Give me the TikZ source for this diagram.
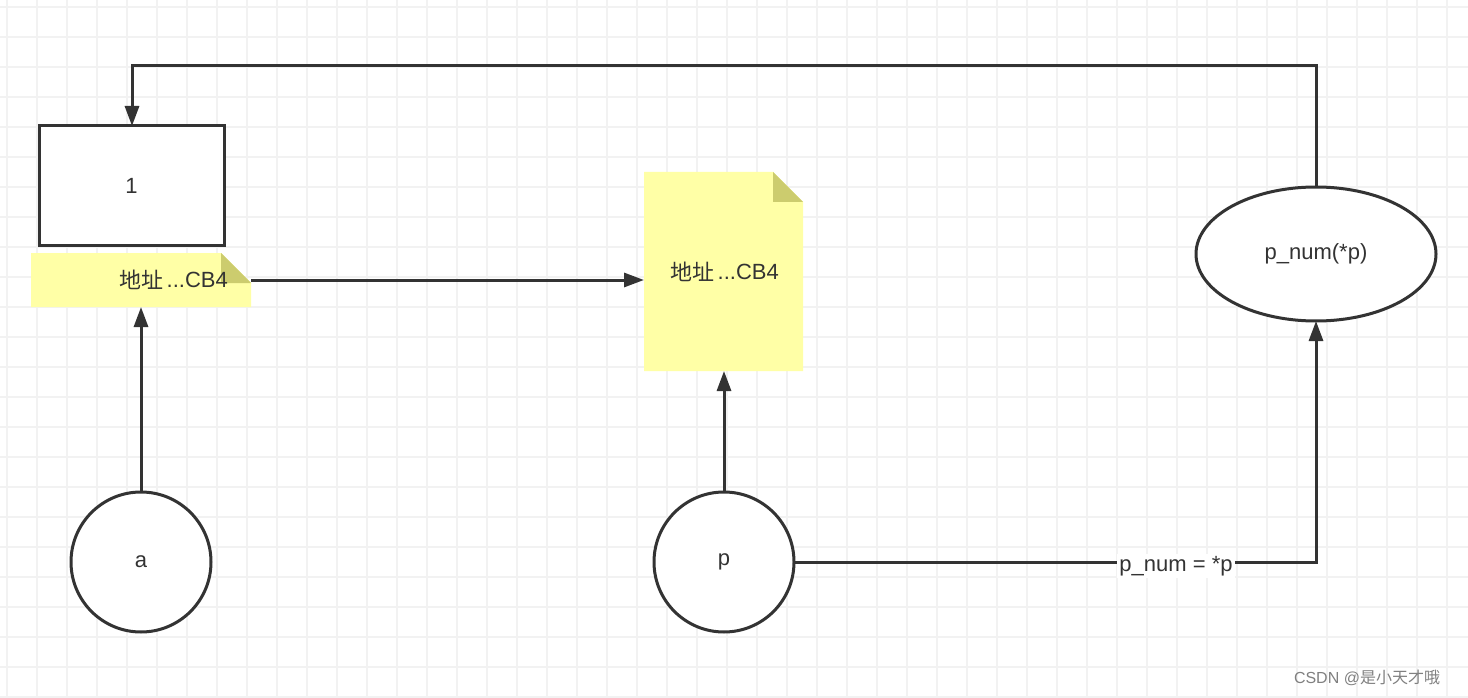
\documentclass[tikz,border=0pt]{standalone}
\usepackage{fontspec}
\setmainfont{Liberation Sans}
\newfontfamily\cjk{Noto Sans CJK SC}
\usetikzlibrary{arrows.meta}
\definecolor{ink}{HTML}{333333}
\definecolor{noteY}{HTML}{FFFFA6}
\definecolor{foldY}{HTML}{CCCC6E}
\begin{document}
\begin{tikzpicture}[x=1pt,y=-1pt,
  line/.style={draw=ink,line width=3pt},
  arr/.style={line,-{Triangle[length=20pt,width=14pt]}},
  txt/.style={text=ink,font=\fontsize{22}{26}\selectfont}]
\useasboundingbox (0,0) rectangle (1468,698);
\fill[white] (0,0) rectangle (1468,698);
\foreach \i in {0,...,48} {\draw[gray!10,line width=1.5pt] (7+30*\i,0) -- (7+30*\i,698);}
\foreach \j in {0,...,23} {\draw[gray!10,line width=1.5pt] (0,7+30*\j) -- (1468,7+30*\j);}
% box 1
\draw[line,fill=white] (39,126) rectangle (224,245);
\node[txt] (one) at (131.5,186) {1};
\coordinate (boxtop) at (132,126);
% note 1
\fill[noteY] (31,253) -- (221,253) -- (251,283) -- (251,307) -- (31,307) -- cycle;
\fill[foldY] (221,253) -- (251,283) -- (221,283) -- cycle;
\node[txt] (n1) at (141,280) {\cjk 地址}; 
\node[txt,anchor=west,inner sep=0pt] at (n1.east) {...CB4};
\node[txt] (note1) at (141,280) {\phantom{\cjk 地址...CB4}};
\coordinate (n1r) at (251,280); \coordinate (n1b) at (141,307);
% note 2
\fill[noteY] (644,172) -- (773,172) -- (803,202) -- (803,371) -- (644,371) -- cycle;
\fill[foldY] (773,172) -- (803,202) -- (773,202) -- cycle;
\node[txt] (n2) at (692,272) {\cjk 地址};
\node[txt,anchor=west,inner sep=0pt] at (n2.east) {...CB4};
\coordinate (n2l) at (644,280); \coordinate (n2b) at (724,371);
% ellipse
\draw[line,fill=white] (1316,254) ellipse [x radius=120, y radius=67];
\node[txt] (pn) at (1316,254) {p\_num(*p)};
\coordinate (pnt) at (1316,187); \coordinate (pnb) at (1316,321);
% circles
\draw[line,fill=white] (141,562) ellipse [x radius=70, y radius=70];
\node[txt] (a) at (141,562) {a};
\draw[line,fill=white] (724,562) ellipse [x radius=70, y radius=70];
\node[txt] (p) at (724,562) {p};
\coordinate (at) at (141,492); \coordinate (pt) at (724,492); \coordinate (pr) at (794,562);
% connectors
\draw[arr] (at) -- (n1b);
\draw[arr] (pt) -- (n2b);
\draw[arr] (n1r) -- (n2l);
\draw[arr] (pr) -- (1316,562) -- (pnb);
\node[txt,fill=white,inner sep=2pt] (lab) at (1176,566) {p\_num = *p};
\draw[arr] (pnt) -- (1316,66) -- (132,66) -- (boxtop);
\node[text=gray,font=\fontsize{16}{18}\selectfont] (wm) at (1367,678) {CSDN @\cjk 是小天才哦};
\end{tikzpicture}
\end{document}
